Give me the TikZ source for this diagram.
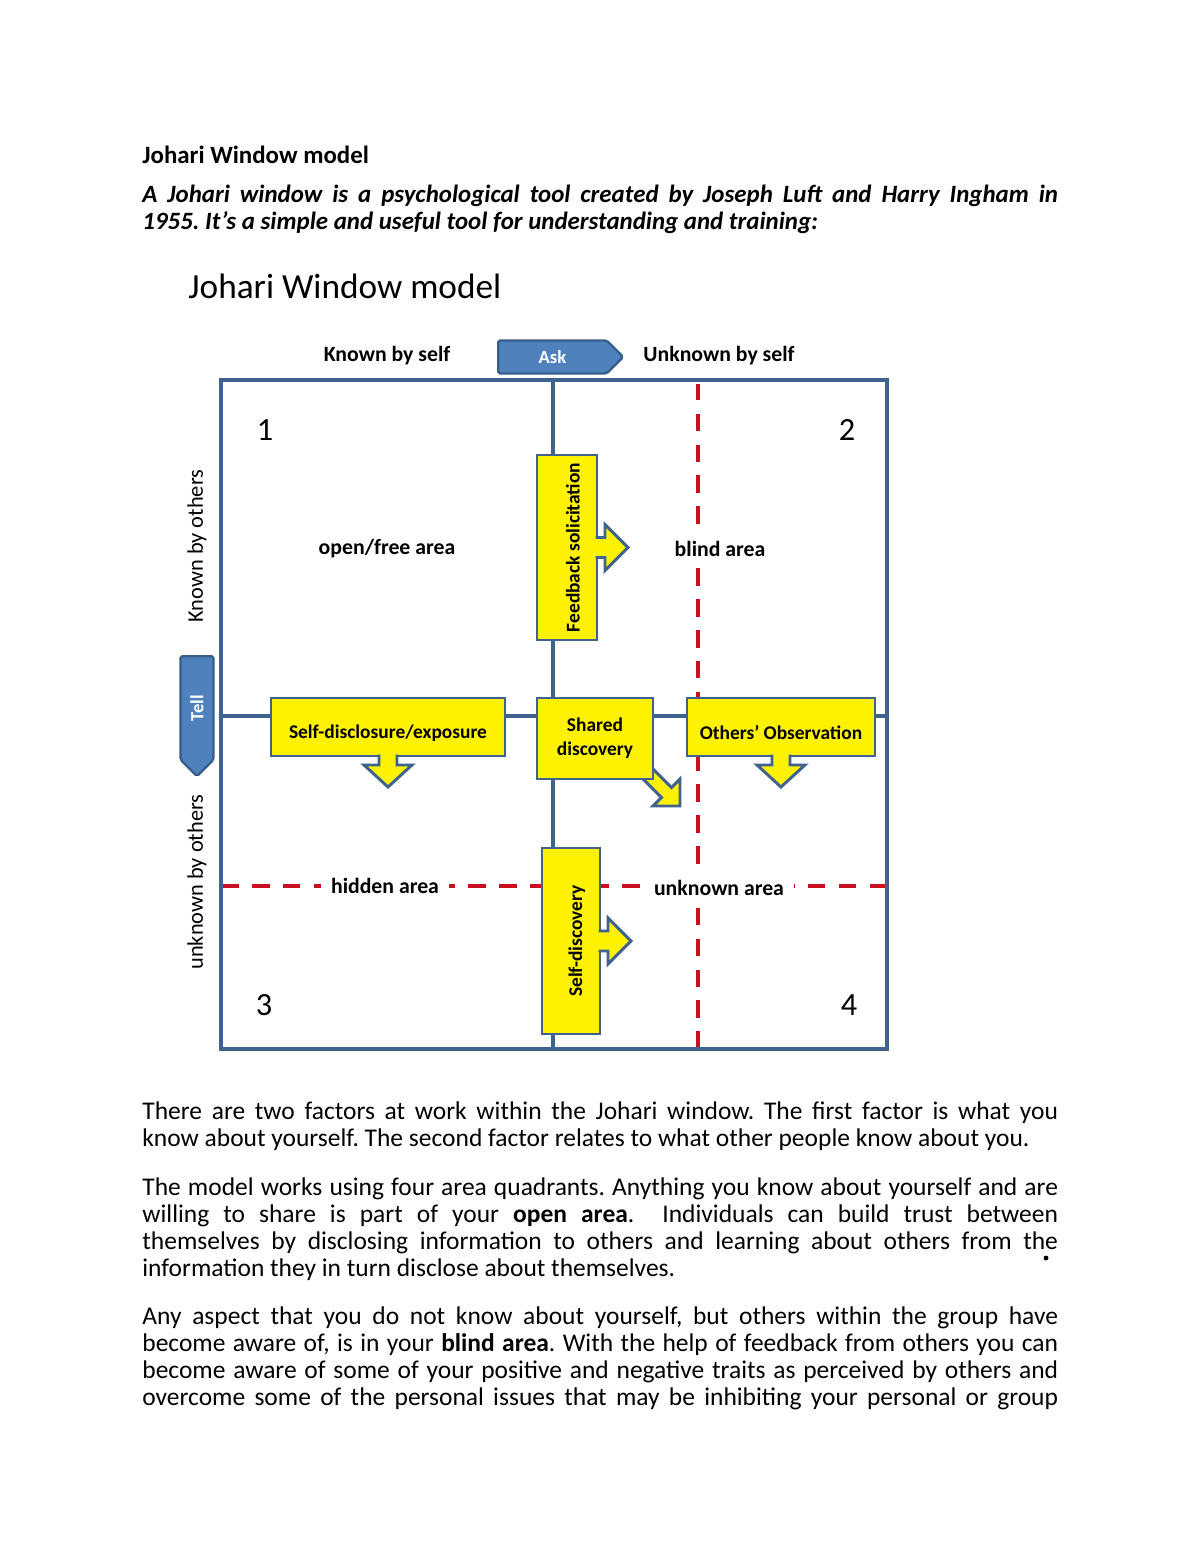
\documentclass[tikz,border=0pt]{standalone}
\usepackage{fontspec}
\setmainfont{Carlito}
\usepackage{graphicx}
\usetikzlibrary{shapes.symbols, backgrounds, positioning}

\definecolor{frameblue}{RGB}{64,98,143}
\definecolor{askblue}{RGB}{79,129,189}
\definecolor{askline}{RGB}{56,93,138}
\definecolor{dashred}{RGB}{200,16,32}
\newcommand{\pxu}{0.51pt}
\newcommand{\lowered}[1]{\raisebox{-3pt}[\height][\depth]{#1}}
\frenchspacing

\begin{document}
\begin{tikzpicture}[x=0.51pt, y=-0.51pt,
  frame/.style={draw=frameblue, line width=1.6pt},
  reddash/.style={draw=dashred, line width=2pt, dash pattern=on 9pt off 6.75pt},
  ybox/.style={rectangle, draw=frameblue, fill=yellow, line width=1.5pt, outer sep=0pt,
               inner sep=0pt, align=center, font=\bfseries\fontsize{9.9}{12.2}\selectfont},
  yarrow/.style={draw=frameblue, fill=yellow, line width=1.5pt},
  bluearrow/.style={signal, draw=askline, fill=askblue, line width=1.2pt, inner sep=0pt,
                    text=white, font=\bfseries\fontsize{9.5}{10}\selectfont,
                    minimum height=33*\pxu, rounded corners=1pt},
  lbl/.style={font=\bfseries\fontsize{11.1}{13}\selectfont},
  sidelbl/.style={rotate=90, font=\fontsize{11.4}{13}\selectfont},
  numlbl/.style={font=\fontsize{16.5}{18}\selectfont},
  areagap/.style={lbl, fill=white, inner xsep=5pt},
  para/.style={anchor=north west, inner sep=0pt, text width=467pt, align=justify,
               font=\fontsize{13}{13.8}\selectfont}
]
\useasboundingbox (0,0) rectangle (1200,1553);

% text above the window
\node[anchor=west, inner sep=0pt, font=\bfseries\fontsize{12.7}{14}\selectfont] (head) at (142,155) {Johari Window model};
\node[para, font=\bfseries\itshape\fontsize{12.7}{13.8}\selectfont] (intro) at (142,185)
  {A Johari window is a psychological tool created by Joseph Luft and Harry Ingham in\linebreak
   1955. It’s a simple and useful tool for understanding and training:};
\node[anchor=west, inner sep=0pt, font=\fontsize{18}{20}\selectfont] (wtitle) at (188,286) {Johari Window model};

% window lines
\draw[reddash] (698,1049) -- (698,384);
\draw[reddash] (221,886) -- (887,886);
\draw[frame] (221,380) rectangle (887,1049);
\draw[frame] (553,380) -- (553,1049);
\draw[frame] (221,716) -- (887,716);

% axis labels
\node[lbl] (kself) at (387,356) {Known by self};
\node[bluearrow, signal to=east, minimum width=125*\pxu, anchor=west] (ask) at (497,357) {Ask};
\node[lbl] (uself) at (719,356) {Unknown by self};
\node[sidelbl] (kothers) at (197,546) {Known by others};
\node[bluearrow, signal to=west, rotate=90, minimum width=120*\pxu, anchor=east] (tell) at (197,655) {Tell};
\node[sidelbl] (uothers) at (197,882) {unknown by others};

% quadrants
\node[numlbl] (n1) at (265,430) {1};
\node[numlbl] (n2) at (847,430) {2};
\node[numlbl] (n3) at (264,1005) {3};
\node[numlbl] (n4) at (849,1005) {4};
\node[lbl] (open) at (387,549) {open/free area};
\node[areagap, inner xsep=0pt] (blind) at (720,549) {blind area};
\node[areagap] (hidden) at (385,886) {hidden area};
\node[areagap] (unknown) at (719,888) {unknown area};

% yellow callouts
\node[ybox, minimum width=60*\pxu, minimum height=185*\pxu] (fbs) at (567,547.5) {\rotatebox{90}{\lowered{Feedback solicitation}}};
\draw[yarrow] (fbs.east) ++(-1.5,-10) -- ++(9.5,0) -- ++(0,-13) -- ++(23,23) -- ++(-23,23) -- ++(0,-13) -- ++(-9.5,0);

\node[ybox, minimum width=234*\pxu, minimum height=58*\pxu] (sdisc) at (388,727) {\lowered{Self-disclosure/exposure}};
\draw[yarrow] (sdisc.south) ++(-9,-1.5) -- ++(0,10.5) -- ++(-15,0) -- ++(24,22) -- ++(24,-22) -- ++(-15,0) -- ++(0,-10.5);

\node[ybox, minimum width=116*\pxu, minimum height=81*\pxu] (shd) at (595,738.5) {Shared\\discovery};
\begin{scope}[on background layer]
\draw[yarrow] (shd.south east) ++(-9,-19) -- ++(27.5,27.5) -- ++(8.5,-8.5) -- ++(0,27) -- ++(-27,0) -- ++(8.5,-8.5) -- ++(-27.5,-27.5) -- cycle;
\end{scope}

\node[ybox, minimum width=188*\pxu, minimum height=58*\pxu] (oobs) at (781,727) {\lowered{Others’ Observation}};
\draw[yarrow] (oobs.south) ++(-9,-1.5) -- ++(0,10.5) -- ++(-15,0) -- ++(24,22) -- ++(24,-22) -- ++(-15,0) -- ++(0,-10.5);

\node[ybox, minimum width=58*\pxu, minimum height=186*\pxu] (sdisco) at (571,941) {\rotatebox{90}{\lowered{Self-discovery}}};
\draw[yarrow] (sdisco.east) ++(-1.5,-10) -- ++(9.5,0) -- ++(0,-13) -- ++(23,23) -- ++(-23,23) -- ++(0,-13) -- ++(-9.5,0);

% text below the window
\node[para] (para1) at (142,1101)
  {There are two factors at work within the Johari window. The first factor is what you\linebreak
   know about yourself. The second factor relates to what other people know about you.};
\node[para] (para2) at (142,1177)
  {The model works using four area quadrants. Anything you know about yourself and are\linebreak
   willing to share is part of your \textbf{open area}.\ \ Individuals can build trust between\linebreak
   themselves by disclosing information to others and learning about others from the\linebreak
   information they in turn disclose about themselves.};
\node[para] (para3) at (142,1306)
  {Any aspect that you do not know about yourself, but others within the group have\linebreak
   become aware of, is in your \textbf{blind area}. With the help of feedback from others you can\linebreak
   become aware of some of your positive and negative traits as perceived by others and\linebreak
   overcome some of the personal issues that may be inhibiting your personal or group\linebreak};
\node[circle, fill, inner sep=0pt, minimum size=2.5pt] (dot) at (1046,1258) {};
\end{tikzpicture}
\end{document}
